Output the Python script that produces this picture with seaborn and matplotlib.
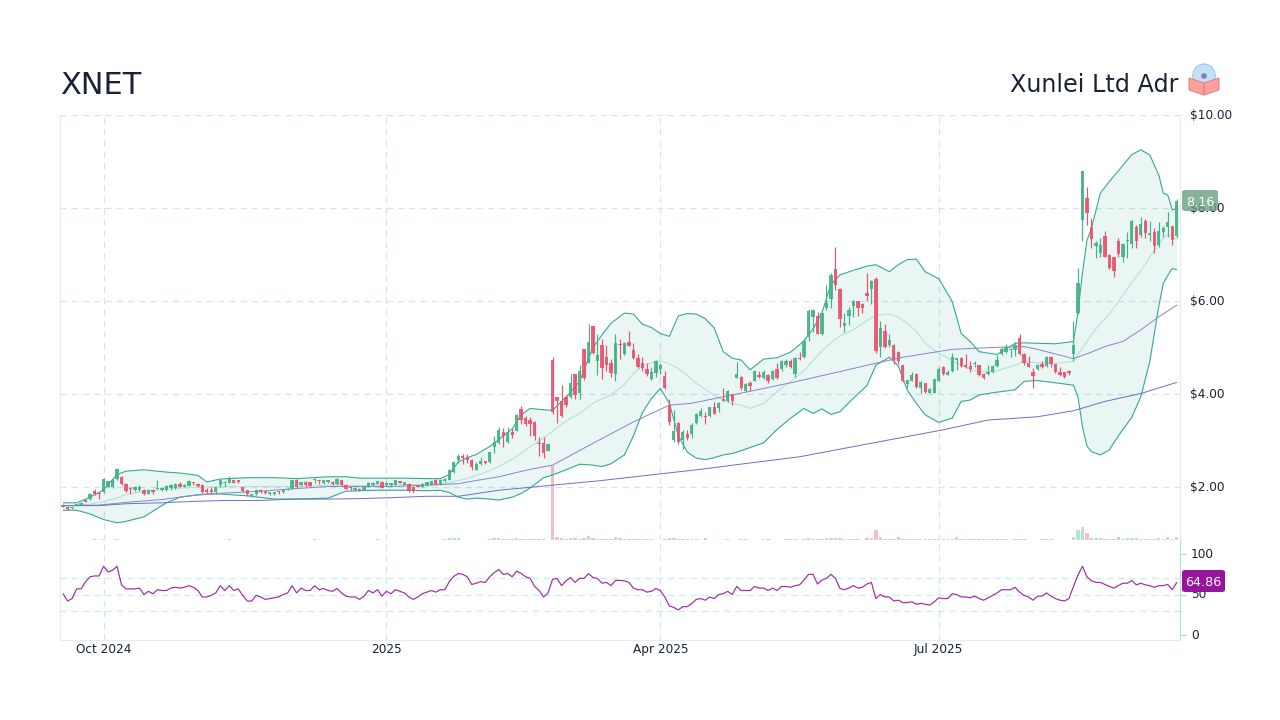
import numpy as np
import pandas as pd
import matplotlib.pyplot as plt
from matplotlib.patches import Polygon, Ellipse, FancyBboxPatch
from matplotlib.transforms import ScaledTranslation
import seaborn as sns

# daily candles, one row of ten per line
opens = [
    1.61,1.58,1.55,1.60,1.62,1.72,1.74,1.91,1.87,1.89,
    2.01,2.00,2.18,2.21,2.06,1.98,1.94,1.94,1.94,1.86,
    1.93,1.96,1.94,1.94,1.97,1.98,2.06,2.01,2.03,2.09,
    2.07,2.05,1.93,1.94,1.89,2.04,2.08,2.09,2.14,2.14,
    2.00,1.93,1.80,1.84,1.94,1.91,1.84,1.84,1.90,1.89,
    1.94,1.96,2.16,2.05,2.10,2.10,2.14,2.14,2.08,2.10,
    2.11,2.06,2.14,2.04,1.98,1.93,1.96,1.94,2.00,2.05,
    2.07,2.11,2.04,2.04,2.05,2.12,2.05,2.07,2.01,2.04,
    2.00,2.04,2.05,2.16,2.06,2.12,2.16,2.32,2.58,2.67,
    2.64,2.59,2.36,2.49,2.55,2.54,2.87,2.94,3.18,2.96,
    3.18,3.21,3.68,3.49,3.43,3.40,2.95,2.94,2.77,4.73,
    3.94,3.85,3.93,3.94,4.43,4.03,4.96,4.67,5.46,4.72,
    5.05,4.80,4.66,4.44,5.07,4.86,5.12,4.95,4.77,4.66,
    4.54,4.32,4.46,4.53,4.39,3.76,3.01,3.37,3.01,3.15,
    3.15,3.37,3.53,3.53,3.53,3.71,3.69,3.90,3.84,3.99,
    4.34,4.37,4.07,4.23,4.29,4.41,4.34,4.41,4.32,4.53,
    4.54,4.62,4.71,4.43,4.77,4.80,5.23,5.65,5.68,5.29,
    5.86,6.04,6.68,6.25,5.47,5.68,5.89,6.00,5.94,6.18,
    6.26,6.47,5.02,5.36,5.05,5.05,4.91,4.62,4.22,4.29,
    4.44,4.13,4.23,4.03,4.03,4.29,4.57,4.41,4.50,4.74,
    4.77,4.62,4.60,4.64,4.62,4.44,4.43,4.48,4.60,4.85,
    4.91,4.95,4.95,5.20,4.87,4.66,4.47,4.53,4.64,4.61,
    4.80,4.64,4.47,4.47,4.48,4.87,5.74,7.74,8.21,7.59,
    7.18,7.04,7.40,6.98,6.94,7.29,6.94,7.28,7.23,7.60,
    7.41,7.73,7.43,7.48,7.20,7.49,7.59,7.61,7.40,
]
closes = [
    1.58,1.53,1.56,1.63,1.66,1.68,1.84,1.84,1.84,2.18,
    2.12,2.15,2.39,2.06,1.91,1.95,2.01,2.01,1.84,1.94,
    1.89,1.98,1.98,2.03,2.04,2.06,2.01,2.05,2.12,2.08,
    2.03,1.89,1.89,1.89,1.99,2.14,2.09,2.19,2.09,2.10,
    1.91,1.84,1.84,1.94,1.90,1.87,1.89,1.89,1.89,1.94,
    1.96,2.14,2.00,2.10,2.05,2.03,2.16,2.13,2.14,2.14,
    2.06,2.18,2.04,1.96,1.97,1.98,1.93,2.00,2.09,2.09,
    2.12,1.98,2.09,2.09,2.14,2.09,2.10,1.91,1.94,2.00,
    2.07,2.11,2.12,2.05,2.16,2.17,2.36,2.53,2.67,2.63,
    2.58,2.44,2.49,2.55,2.51,2.75,2.97,3.23,3.10,3.18,
    3.12,3.55,3.44,3.35,3.35,3.10,2.92,2.74,2.92,3.62,
    3.84,3.53,3.76,4.23,3.98,4.49,4.34,5.12,4.89,4.84,
    4.55,4.62,4.46,5.10,5.05,5.09,5.04,4.77,4.57,4.55,
    4.44,4.47,4.70,4.62,4.12,3.40,3.20,2.97,3.18,3.05,
    3.33,3.57,3.63,3.50,3.71,3.57,3.80,3.85,4.07,3.86,
    4.43,4.12,4.22,4.17,4.49,4.36,4.47,4.29,4.49,4.34,
    4.70,4.70,4.57,4.77,4.75,5.14,5.79,5.81,5.30,5.74,
    5.96,6.56,6.34,5.61,5.53,5.81,6.00,5.86,5.86,6.11,
    6.42,4.93,5.43,5.00,5.16,4.73,4.70,4.27,4.30,4.41,
    4.14,4.25,4.05,4.10,4.32,4.54,4.42,4.48,4.79,4.77,
    4.60,4.57,4.53,4.66,4.41,4.35,4.48,4.60,4.73,4.96,
    5.00,4.97,5.05,4.85,4.66,4.59,4.39,4.62,4.59,4.79,
    4.65,4.47,4.41,4.36,4.46,5.05,6.38,8.80,7.89,7.33,
    7.24,7.20,6.95,6.70,6.65,7.01,7.23,7.30,7.71,7.29,
    7.65,7.47,7.46,7.18,7.50,7.56,7.69,7.31,8.16,
]
highs = [
    1.63,1.59,1.57,1.64,1.67,1.74,1.87,1.95,1.89,2.19,
    2.13,2.17,2.41,2.23,2.08,1.99,2.03,2.04,1.95,1.95,
    1.95,2.14,1.99,2.05,2.06,2.08,2.10,2.06,2.14,2.11,
    2.09,2.06,1.98,2.01,2.00,2.14,2.12,2.24,2.15,2.15,
    2.01,1.94,1.85,1.95,1.96,1.92,1.90,1.90,1.91,1.95,
    1.97,2.16,2.17,2.10,2.12,2.11,2.19,2.16,2.15,2.15,
    2.12,2.19,2.15,2.05,2.00,1.98,1.98,2.01,2.10,2.10,
    2.13,2.12,2.10,2.09,2.14,2.13,2.10,2.08,2.03,2.05,
    2.08,2.11,2.13,2.17,2.17,2.19,2.38,2.55,2.70,2.72,
    2.72,2.60,2.54,2.65,2.56,2.76,3.10,3.30,3.26,3.28,
    3.27,3.57,3.74,3.52,3.51,3.41,3.08,3.07,2.93,4.79,
    3.94,4.19,3.98,4.44,4.44,4.62,4.97,5.51,5.47,5.30,
    5.18,5.05,4.75,5.28,5.18,5.12,5.36,5.10,4.85,4.79,
    4.66,4.59,4.73,4.66,4.50,3.89,3.66,3.39,3.23,3.23,
    3.37,3.60,3.69,3.62,3.73,3.82,3.82,4.12,4.09,3.99,
    4.68,4.38,4.24,4.27,4.52,4.50,4.52,4.42,4.52,4.67,
    4.74,4.75,4.75,4.79,4.91,5.20,5.83,5.83,5.77,5.77,
    6.34,6.61,7.17,6.27,5.75,5.88,6.02,6.01,5.95,6.60,
    6.45,6.52,5.56,5.51,5.30,5.08,4.92,4.63,4.31,4.48,
    4.45,4.27,4.24,4.12,4.33,4.59,4.60,4.52,4.89,4.77,
    4.79,4.87,4.71,4.71,4.63,4.46,4.63,4.62,4.83,5.00,
    5.07,4.98,5.12,5.30,4.88,4.82,4.55,4.64,4.70,4.82,
    4.82,4.65,4.57,4.47,4.52,5.56,6.72,8.80,8.46,7.78,
    7.28,7.35,7.51,7.00,6.95,7.36,7.25,7.49,7.74,7.64,
    7.81,7.76,7.71,7.58,7.69,7.61,7.92,7.62,8.19,
]
lows = [
    1.56,1.51,1.52,1.59,1.61,1.67,1.72,1.82,1.74,1.87,
    1.99,1.98,2.16,2.04,1.89,1.84,1.91,1.92,1.82,1.85,
    1.86,1.95,1.91,1.92,1.94,1.96,1.99,2.00,2.02,2.05,
    2.00,1.87,1.88,1.87,1.88,2.01,2.00,2.08,2.08,2.09,
    1.90,1.80,1.78,1.82,1.88,1.85,1.82,1.82,1.84,1.88,
    1.93,1.95,1.98,2.03,2.00,2.01,2.09,2.07,2.07,2.09,
    2.05,2.05,2.02,1.96,1.94,1.92,1.92,1.93,1.99,2.03,
    2.06,1.98,2.02,2.02,2.04,2.08,2.04,1.90,1.88,1.99,
    1.99,2.03,2.04,2.04,2.05,2.11,2.15,2.30,2.52,2.49,
    2.52,2.37,2.36,2.47,2.49,2.52,2.74,2.92,2.87,2.94,
    3.05,3.20,3.35,3.31,3.10,3.00,2.67,2.62,2.77,3.58,
    3.38,3.51,3.72,3.91,3.90,3.89,4.30,4.66,4.87,4.41,
    4.32,4.50,4.37,4.28,4.75,4.84,5.04,4.75,4.56,4.50,
    4.38,4.30,4.37,4.43,4.10,3.33,2.97,2.93,2.81,3.01,
    3.05,3.35,3.51,3.35,3.51,3.57,3.62,3.84,3.82,3.76,
    4.34,4.08,4.05,4.07,4.27,4.34,4.32,4.23,4.30,4.32,
    4.49,4.59,4.56,4.37,4.74,4.78,5.13,5.34,5.28,5.27,
    5.81,5.84,6.24,5.43,5.34,5.48,5.65,5.68,5.75,6.00,
    5.94,4.89,4.80,4.98,5.00,4.65,4.65,4.26,4.12,4.27,
    4.13,4.03,4.03,4.03,4.02,4.27,4.41,4.40,4.48,4.52,
    4.57,4.55,4.48,4.57,4.39,4.33,4.41,4.46,4.58,4.83,
    4.89,4.79,4.82,4.83,4.63,4.58,4.12,4.52,4.55,4.58,
    4.58,4.45,4.38,4.35,4.41,4.70,5.71,7.29,7.64,7.15,
    6.92,6.94,6.94,6.68,6.52,6.95,6.83,6.92,7.13,7.15,
    7.38,7.36,7.28,7.04,7.17,7.37,7.38,7.21,7.35,
]
# volume in millions of shares
volumes = [
    .1,.1,.1,.1,.1,.1,.1,.4,.1,.4,
    .1,.1,.4,.1,.1,.1,.1,.1,.1,.1,
    .1,.1,.1,.1,.1,.1,.1,.1,.1,.1,
    .1,.1,.1,.1,.1,.1,.1,.4,.1,.1,
    .1,.1,.1,.1,.1,.1,.1,.1,.1,.1,
    .1,.1,.1,.1,.1,.1,.4,.1,.1,.1,
    .1,.1,.1,.1,.1,.1,.1,.1,.1,.1,
    .4,.1,.1,.1,.1,.1,.1,.1,.1,.1,
    .1,.1,.1,.1,.1,.5,.8,.8,.8,.2,
    .2,.2,.2,.2,.2,.3,.8,.8,.3,.3,
    .3,.8,.6,.3,.3,.3,.6,.6,.1,37,
    1.7,1.2,.3,1,.8,.7,1.2,2.2,.8,.7,
    .7,.7,.7,1.7,.8,.7,.7,.7,.7,.3,
    .7,.7,.1,.1,.7,1.2,1.2,.7,.7,.7,
    .3,.7,.2,1.2,.2,.2,.2,.1,.7,.2,
    .1,.7,.7,.1,.1,.1,.7,.7,.1,.1,
    .1,.7,.7,.7,.2,.7,1.2,.7,.7,.7,
    1.2,1.2,1.2,1.2,.7,.7,.7,.7,.2,1.2,
    1.2,5.2,1.7,.7,.7,.6,1.5,.7,.7,.7,
    .7,.7,.3,.7,.7,.7,.3,.7,.7,1.3,
    .4,.7,.3,.3,.7,.3,.7,.7,.7,.3,
    .7,.2,.3,.5,.3,.1,.1,.1,.3,.3,
    .3,.2,.2,.1,.1,1.7,5.2,6.7,3.3,1.2,
    1.2,1.2,.7,.7,.7,1.7,.7,1.2,1.2,1.2,
    .7,.7,.7,.7,1.2,.7,1.7,.7,1.7,
]
rsi = [
    51,42,45,57,57,66,72,73,73,85,
    78,80,85,62,57,57,57,58,50,54,
    51,56,55,55,58,59,58,59,61,59,
    55,47,47,49,52,61,55,61,55,57,
    49,42,42,49,47,44,45,46,47,50,
    52,61,52,58,55,55,61,56,57.5,55,
    54,57.5,52,48,47,47,44,48,55,52,
    56,48,54,51,56,54,52,47,44,47,
    51,53,55,53,56,56,66,72.5,76,75,
    72,62.5,64,66,65,72,77,81,75,76,
    72,79,76,72,70,60,55,47,52,69,
    70,61,67,71,65,70,70,76,71,70,
    64,65,61,67.5,67.5,67,65,58,56,56,
    53,54,57.5,55,47,36,34,31,35,35,
    39,44,45,43,47,45,50,51,54,50,
    60,55,55,55,60,58,58,55,58,55,
    60,60,59,61,62,68,75,75,63,68,
    70,75,70,57.5,56,58,61,58,59,63,
    65,45,50,47,47,42,43,40,40,41,
    38,39,38,37,41,46,45,45,51,50,
    47,47,46,48,45,43,46,49,52,56,
    56,56,59,53,49,47,43,48,48,52,
    48,45,43,42,45,60,74,85,72,67,
    65,65,62.5,60,58,61,64,64,67.5,62,
    64,62,61,59,61,61,62.5,56,64.86,
]

# bollinger bands, read at these bar numbers
band_days = [0,3,6,9,12,14,18,23,26,30,32,35,41,47,52,59,63,66,70,76,81,84,86,88,90,92,95,97,
             100,102,104,107,109,112,115,118,120,122,125,127,129,131,133,135,137,139,141,143,145,147,149,
             151,153,156,159,162,165,167,169,171,173,176,179,181,184,186,188,190,192,195,198,
             200,202,204,208,212,214,217,221,225,226,227,228,229,231,233,235,238,240,242,244,245,246,247,248]
band_upper = [1.66,1.66,1.78,1.94,2.27,2.34,2.37,2.32,2.30,2.25,2.11,2.17,2.20,2.20,2.18,2.22,2.22,2.19,2.19,2.19,2.18,2.18,2.27,2.54,2.63,2.70,2.87,3.02,
              3.25,3.55,3.69,3.66,3.65,3.93,4.27,5.00,5.27,5.52,5.74,5.72,5.50,5.43,5.30,5.24,5.68,5.73,5.72,5.62,5.42,4.91,4.77,
              4.73,4.52,4.75,4.78,4.90,5.14,5.40,5.75,6.36,6.56,6.66,6.75,6.78,6.63,6.78,6.89,6.90,6.63,6.48,5.99,
              5.30,5.13,4.91,4.85,5.09,5.10,5.09,5.08,5.13,5.75,6.60,7.30,7.56,8.32,8.57,8.80,9.15,9.25,9.14,8.71,8.32,8.28,7.96,7.99]
band_lower = [1.50,1.50,1.42,1.30,1.23,1.26,1.36,1.66,1.78,1.83,1.85,1.85,1.81,1.74,1.74,1.76,1.91,1.92,1.93,1.93,1.92,1.93,1.88,1.78,1.74,1.76,1.74,1.72,
              1.78,1.86,1.98,2.20,2.26,2.37,2.49,2.47,2.44,2.50,2.69,3.10,3.60,3.90,4.12,3.80,3.10,2.75,2.62,2.59,2.63,2.69,2.72,
              2.78,2.85,2.95,3.24,3.48,3.69,3.58,3.68,3.56,3.62,3.91,4.18,4.62,4.79,4.60,4.08,3.80,3.55,3.39,3.48,
              3.84,3.87,3.98,4.04,4.09,4.27,4.29,4.24,4.19,3.94,3.30,2.88,2.76,2.69,2.80,3.10,3.50,3.94,4.70,5.88,6.38,6.55,6.70,6.67]
band_mid = [1.60,1.60,1.63,1.69,1.76,1.84,1.91,1.95,1.97,2.00,2.00,2.01,2.01,2.01,2.01,2.04,2.04,2.03,2.04,2.05,2.06,2.07,2.09,2.14,2.18,2.25,2.35,2.44,
            2.60,2.72,2.87,3.05,3.20,3.42,3.58,3.80,3.90,3.98,4.20,4.44,4.60,4.67,4.71,4.65,4.55,4.40,4.23,4.10,3.97,3.87,3.79,
            3.76,3.69,3.80,4.05,4.27,4.50,4.72,4.93,5.10,5.25,5.38,5.58,5.69,5.72,5.65,5.52,5.35,5.09,4.88,4.72,
            4.62,4.53,4.48,4.50,4.62,4.70,4.67,4.66,4.70,4.85,4.99,5.13,5.28,5.52,5.72,5.98,6.40,6.65,6.95,7.22,7.35,7.43,7.38,7.33]

sma50_days = [0,8,14,22,29,36,44,51,59,66,73,81,88,92,97,104,109,118,127,135,140,150,162,172,180,187,198,207,214,217,221,225,229,232,236,240,244,248]
sma50 = [1.60,1.61,1.67,1.73,1.82,1.87,1.91,1.96,2.01,2.01,2.01,2.04,2.07,2.14,2.22,2.38,2.47,2.94,3.40,3.76,3.80,4.00,4.24,4.46,4.64,4.79,4.96,5.00,5.02,4.96,4.86,4.76,4.90,5.02,5.13,5.38,5.66,5.91]
sma200_days = [0,8,14,22,29,36,44,51,59,66,73,81,88,97,119,142,150,164,186,196,206,217,225,232,240,248]
sma200 = [1.60,1.60,1.64,1.66,1.69,1.71,1.71,1.74,1.74,1.75,1.77,1.80,1.80,1.93,2.13,2.38,2.48,2.65,3.05,3.23,3.44,3.51,3.64,3.84,4.01,4.25]

tick_days = [9, 72, 133, 195]
tick_names = ["Oct 2024", "2025", "Apr 2025", "Jul 2025"]
price_ticks = [2, 4, 6, 8, 10]
rsi_ticks = [0, 50, 100]
rsi_levels = [30, 50, 70]

GREEN = "#45b186"
RED = "#e9536c"
TEAL = "#35a898"
GRID = "#d3e5e9"
RSI_GRID = "#c6ecf7"
INK = "#1a2238"
W, H = 1280, 720

sns.set_theme(style="white")
plt.rcParams["font.family"] = "DejaVu Sans"

df = pd.DataFrame({"day": range(len(closes)), "open": opens, "high": highs, "low": lows,
                   "close": closes, "volume": volumes, "rsi": rsi})
bands = pd.DataFrame({"day": band_days, "upper": band_upper, "lower": band_lower, "mid": band_mid})
up = df["close"] >= df["open"]
colors = np.where(up, GREEN, RED)


def rect(left, top, right, bottom):
    return [left / W, 1 - bottom / H, (right - left) / W, (bottom - top) / H]


fig = plt.figure(figsize=(12.8, 7.2), dpi=100, facecolor="white")
ax_vol = fig.add_axes(rect(60, 115, 1180, 540))
ax = fig.add_axes(rect(60, 115, 1180, 540), sharex=ax_vol)
ax_rsi = fig.add_axes(rect(60, 540, 1180, 640), sharex=ax_vol)
ax.patch.set_visible(False)

# volume sits under the price panel
ax_vol.bar(df["day"], df["volume"], width=0.76, color=colors, alpha=0.38, linewidth=0)
ax_vol.set_ylim(0, 212.5)
ax_vol.set_yticks([])
ax_vol.tick_params(labelbottom=False, length=0)

for d in tick_days:
    ax.axvline(d, color=GRID, lw=0.9, ls=(0, (5, 4)), zorder=0)
    ax_rsi.axvline(d, color=GRID, lw=0.9, ls=(0, (5, 4)), zorder=0)
for p in price_ticks:
    ax.axhline(p, color=GRID, lw=0.9, ls=(0, (5, 4)), zorder=0)

# bands and averages
ax.fill_between(bands["day"], bands["lower"], bands["upper"], color=TEAL, alpha=0.1, lw=0, zorder=1)
sns.lineplot(data=bands, x="day", y="upper", color=TEAL, lw=0.8, ax=ax, zorder=2, errorbar=None)
sns.lineplot(data=bands, x="day", y="lower", color=TEAL, lw=0.8, ax=ax, zorder=2, errorbar=None)
sns.lineplot(data=bands, x="day", y="mid", color="#b2e2da", lw=0.8, ax=ax, zorder=2, errorbar=None)
sns.lineplot(x=sma50_days, y=sma50, color="#9284cc", lw=0.72, ax=ax, zorder=2, errorbar=None)
sns.lineplot(x=sma200_days, y=sma200, color="#6f73c6", lw=0.72, ax=ax, zorder=2, errorbar=None)

# candles
ax.vlines(df["day"], df["low"], df["high"], colors=colors, lw=0.85, zorder=3)
body = (df["close"] - df["open"]).abs().clip(lower=0.025)
ax.bar(df["day"], body, bottom=df[["open", "close"]].min(axis=1), width=0.74, color=colors,
       linewidth=0, alpha=0.9, zorder=4)

ax.set_xlim(-0.7, 248.73)
ax.set_ylim(0.86, 10)
ax.set_yticks(price_ticks)
ax.set_yticklabels([f"${p:.2f}" for p in price_ticks])
ax.yaxis.tick_right()
ax.tick_params(axis="y", length=0, pad=7.5, labelsize=8.7, labelcolor=INK)
ax.tick_params(axis="x", labelbottom=False, length=0)
ax.set_xlabel("")
ax.set_ylabel("")

# rsi panel
for level in rsi_levels:
    ax_rsi.axhline(level, color=RSI_GRID, lw=0.9, ls=(0, (5, 4)), zorder=0)
sns.lineplot(data=df, x="day", y="rsi", color="#a02aa8", lw=0.85, ax=ax_rsi, errorbar=None)
ax_rsi.set_ylim(-6.25, 117.5)
ax_rsi.set_yticks(rsi_ticks)
ax_rsi.yaxis.tick_right()
ax_rsi.tick_params(axis="y", length=4, width=0.8, color="#b5d8e1", pad=4, labelsize=8.7, labelcolor=INK)
ax_rsi.set_xticks(tick_days)
ax_rsi.set_xticklabels(tick_names)
ax_rsi.tick_params(axis="x", length=0, pad=2.5, labelsize=8.7, labelcolor=INK)
ax_rsi.set_xlabel("")
ax_rsi.set_ylabel("")

# the right-hand labels sit a touch above their ticks
nudge = ScaledTranslation(0, 1.2 / 100, fig.dpi_scale_trans)
for lbl in ax.get_yticklabels() + ax_rsi.get_yticklabels():
    lbl.set_transform(lbl.get_transform() + nudge)

for a in (ax, ax_vol, ax_rsi):
    for side in ("left", "right", "top", "bottom"):
        a.spines[side].set_color("#e2edf1")
        a.spines[side].set_linewidth(0.8)
ax.spines["top"].set_visible(False)
ax_vol.spines["top"].set_visible(False)
ax_rsi.spines["top"].set_visible(False)
ax_rsi.spines["right"].set_color("#b5d8e1")


def fx(x):
    return x / W


def fy(y):
    return 1 - y / H


# last value tags
for left, top, right, bottom, face, alpha, label in [
    (1182, 190, 1218, 211, "#6da383", 0.82, "8.16"),
    (1182, 570, 1225, 592, "#97159b", 1.0, "64.86"),
]:
    fig.add_artist(FancyBboxPatch((fx(left), fy(bottom)), (right - left) / W, (bottom - top) / H,
                                  boxstyle="round,pad=0,rounding_size=0.003", transform=fig.transFigure,
                                  facecolor=face, edgecolor="none", alpha=alpha, zorder=6))
    fig.text(fx((left + right) / 2), fy((top + bottom) / 2), label, color="white", fontsize=9.2,
             ha="center", va="center_baseline", zorder=7)

fig.text(fx(60), fy(82), "XNET", color=INK, fontsize=21.9, ha="left", va="center_baseline")
fig.text(fx(1178), fy(82.5), "Xunlei Ltd Adr", color=INK, fontsize=17.2, ha="right", va="center_baseline")

# disc-in-a-box icon next to the name
fig.add_artist(Ellipse((fx(1204), fy(75.5)), 22.5 / W, 23 / H, transform=fig.transFigure,
                       facecolor="#c4e2f6", edgecolor="#93c3e4", lw=0.7, zorder=5))
fig.add_artist(Ellipse((fx(1204), fy(76)), 6 / W, 6 / H, transform=fig.transFigure,
                       facecolor="#7b93cf", edgecolor="none", zorder=5))
fig.add_artist(Ellipse((fx(1204), fy(76)), 2.6 / W, 2.6 / H, transform=fig.transFigure,
                       facecolor="#dc5a66", edgecolor="none", zorder=5))
for pts in ([(1189, 78), (1204, 83), (1204, 95), (1189, 90)],
            [(1204, 83), (1219, 78), (1219, 90), (1204, 95)]):
    fig.add_artist(Polygon([(fx(x), fy(y)) for x, y in pts], closed=True, transform=fig.transFigure,
                           facecolor="#fb9f9f", edgecolor="#e9797c", lw=0.7, zorder=6))

fig.savefig("out.png", dpi=100)
